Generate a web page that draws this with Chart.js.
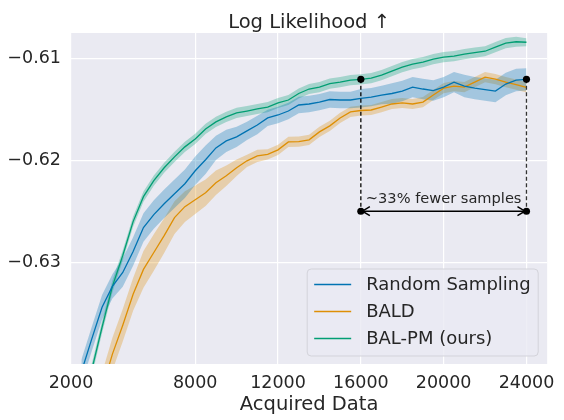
<!DOCTYPE html>
<html><head><meta charset="utf-8">
<script src="https://cdn.jsdelivr.net/npm/chart.js@4.4.1/dist/chart.umd.min.js"></script>
<style>html,body{margin:0;padding:0;background:#fff}#wrap{width:564px;height:420px}</style>
</head><body><div id="wrap"><canvas id="c" width="564" height="420"></canvas></div>
<script>
const acquired = [2500,3000,3500,4000,4500,5000,5500,6000,6500,7000,7500,8000,8500,9000,9500,10000,10500,11000,11500,12000,12500,13000,13500,14000,14500,15000,15500,16000,16500,17000,17500,18000,18500,19000,19500,20000,20500,21000,21500,22000,22500,23000,23500,24000];
const randomMean = [-0.64079,-0.63756,-0.63443,-0.63238,-0.63101,-0.62895,-0.62660,-0.62533,-0.62426,-0.62328,-0.62230,-0.62103,-0.61995,-0.61878,-0.61809,-0.61770,-0.61711,-0.61653,-0.61584,-0.61555,-0.61516,-0.61457,-0.61447,-0.61428,-0.61403,-0.61408,-0.61408,-0.61391,-0.61379,-0.61359,-0.61344,-0.61320,-0.61281,-0.61300,-0.61315,-0.61281,-0.61232,-0.61271,-0.61291,-0.61305,-0.61320,-0.61251,-0.61212,-0.61205];
const randomStd = [0.0012,0.0012,0.0012,0.0012,0.0014,0.0014,0.0014,0.0014,0.0014,0.0014,0.0014,0.0014,0.0014,0.0012,0.0011,0.0010,0.0009,0.0009,0.0008,0.0008,0.0008,0.0008,0.0008,0.0008,0.0008,0.0008,0.0008,0.0009,0.0009,0.0009,0.0010,0.0010,0.0010,0.0010,0.0010,0.0010,0.0010,0.0011,0.0011,0.0011,0.0011,0.0011,0.0011,0.0011];
const baldMean = [-0.64931,-0.64539,-0.64246,-0.63903,-0.63619,-0.63316,-0.63071,-0.62905,-0.62739,-0.62563,-0.62455,-0.62387,-0.62318,-0.62220,-0.62152,-0.62073,-0.62005,-0.61956,-0.61941,-0.61897,-0.61819,-0.61816,-0.61799,-0.61721,-0.61662,-0.61584,-0.61525,-0.61511,-0.61506,-0.61477,-0.61447,-0.61437,-0.61447,-0.61428,-0.61359,-0.61291,-0.61271,-0.61281,-0.61232,-0.61183,-0.61203,-0.61232,-0.61256,-0.61284];
const baldStd = [0.0016,0.0016,0.0016,0.0016,0.0016,0.0016,0.0018,0.0018,0.0017,0.0016,0.0015,0.0014,0.0013,0.0012,0.0010,0.0008,0.0006,0.0006,0.0005,0.0005,0.0005,0.0005,0.0005,0.0005,0.0005,0.0005,0.0005,0.0005,0.0005,0.0005,0.0005,0.0005,0.0005,0.0005,0.0005,0.0005,0.0005,0.0005,0.0005,0.0005,0.0005,0.0005,0.0005,0.0005];
const balpmMean = [-0.64441,-0.64060,-0.63639,-0.63238,-0.62934,-0.62602,-0.62357,-0.62200,-0.62073,-0.61966,-0.61868,-0.61790,-0.61692,-0.61623,-0.61574,-0.61535,-0.61516,-0.61496,-0.61477,-0.61437,-0.61408,-0.61344,-0.61300,-0.61281,-0.61247,-0.61232,-0.61212,-0.61205,-0.61193,-0.61163,-0.61124,-0.61085,-0.61056,-0.61036,-0.61007,-0.60987,-0.60977,-0.60958,-0.60943,-0.60929,-0.60889,-0.60850,-0.60836,-0.60841];
const balpmStd = [0.0006,0.0006,0.0006,0.0006,0.0005,0.0005,0.0005,0.0005,0.0005,0.0005,0.0005,0.0005,0.0005,0.0005,0.0005,0.0005,0.0005,0.0005,0.0005,0.0005,0.0005,0.0005,0.0005,0.0005,0.0005,0.0005,0.0005,0.0005,0.0005,0.0005,0.0005,0.0005,0.0005,0.0005,0.0005,0.0005,0.0005,0.0005,0.0005,0.0005,0.0005,0.0005,0.0005,0.0004];
const seriesNames = ['Random Sampling','BALD','BAL-PM (ours)'];
const xTicks = [2000,8000,12000,16000,20000,24000];
const yTicks = [-0.63,-0.62,-0.61];
const markerX = [16000,24000];
const markerTopY = -0.61205;
const arrowY = -0.625;
const annotationText = '~33% fewer samples';
const titleText = 'Log Likelihood \u2191';
const xTitle = 'Acquired Data';

const colors = ['#0173b2','#de8f05','#029e73'];
const bands = ['rgba(1,115,178,0.3)','rgba(222,143,5,0.3)','rgba(2,158,115,0.3)'];
const means = [randomMean, baldMean, balpmMean];
const stds = [randomStd, baldStd, balpmStd];
const FONT = '"DejaVu Sans"';
const TXT = '#262626';

const pts = (arr) => acquired.map((x,i)=>({x:x, y:arr[i]}));
const upper = (m,s) => acquired.map((x,i)=>({x:x, y:m[i]+s[i]}));
const lower = (m,s) => acquired.map((x,i)=>({x:x, y:m[i]-s[i]}));

const datasets = [];
datasets.push({type:'scatter', data:[{x:markerX[0],y:markerTopY},{x:markerX[1],y:markerTopY},{x:markerX[0],y:arrowY},{x:markerX[1],y:arrowY}], pointRadius:3.6, pointBackgroundColor:'#000', pointBorderWidth:0, showLine:false, clip:false});
datasets.push({data:[{x:markerX[0],y:markerTopY},{x:markerX[0],y:arrowY}], borderColor:'#000', borderWidth:1.3, borderDash:[4,2.5], pointRadius:0, fill:false});
datasets.push({data:[{x:markerX[1],y:markerTopY},{x:markerX[1],y:arrowY}], borderColor:'#333', borderWidth:1.3, borderDash:[4,2.5], pointRadius:0, fill:false});
datasets.push({data:[{x:markerX[0],y:arrowY},{x:markerX[1],y:arrowY}], borderColor:'#000', borderWidth:1.5, pointRadius:0, fill:false});
for (let k=0;k<3;k++) datasets.push({label:seriesNames[k], data:pts(means[k]), borderColor:colors[k], borderWidth:1.3, pointRadius:0, fill:false, tension:0});
for (let k=0;k<3;k++) {
  const idx = datasets.length;
  datasets.push({data:upper(means[k],stds[k]), borderWidth:0, borderColor:'rgba(0,0,0,0)', pointRadius:0, backgroundColor:bands[k], fill:idx+1, tension:0});
  datasets.push({data:lower(means[k],stds[k]), borderWidth:0, borderColor:'rgba(0,0,0,0)', pointRadius:0, fill:false, tension:0});
}

const bgPlugin = {
  id:'bg',
  beforeDraw(chart){
    const {ctx, chartArea:a} = chart;
    ctx.save(); ctx.fillStyle='#eaeaf2';
    ctx.fillRect(a.left,a.top,a.right-a.left,a.bottom-a.top);
    ctx.restore();
  }
};
const overlayPlugin = {
  id:'overlay',
  afterDraw(chart){
    const {ctx, chartArea:a, scales} = chart;
    const xs = scales.x, ys = scales.y;
    ctx.save();
    // title
    ctx.fillStyle = TXT; ctx.font = '19.5px '+FONT; ctx.textAlign='center'; ctx.textBaseline='alphabetic';
    ctx.fillText(titleText, (a.left+a.right)/2, 27.5);
    // arrow heads
    const x0 = xs.getPixelForValue(markerX[0]), x1 = xs.getPixelForValue(markerX[1]), yA = ys.getPixelForValue(arrowY);
    ctx.strokeStyle='#000'; ctx.lineWidth=1.5;
    ctx.beginPath();
    ctx.moveTo(x0+9, yA-4.5); ctx.lineTo(x0+1.5, yA); ctx.lineTo(x0+9, yA+4.5);
    ctx.moveTo(x1-9, yA-4.5); ctx.lineTo(x1-1.5, yA); ctx.lineTo(x1-9, yA+4.5);
    ctx.stroke();
    // annotation text
    ctx.fillStyle = TXT; ctx.font = '14.6px '+FONT; ctx.textAlign='center'; ctx.textBaseline='alphabetic';
    ctx.fillText(annotationText, (x0+x1)/2, yA-8);
    // legend
    const bw = 231, bh = 87;
    const bx = a.right - 9 - bw, by = a.bottom - 8 - bh;
    ctx.beginPath();
    ctx.roundRect(bx, by, bw, bh, 4);
    ctx.fillStyle='rgba(234,234,242,0.8)'; ctx.fill();
    ctx.strokeStyle='#d3d3da'; ctx.lineWidth=1; ctx.stroke();
    ctx.font = '18px '+FONT; ctx.textAlign='left'; ctx.textBaseline='middle';
    for (let k=0;k<3;k++){
      const ry = by + 15.5 + k*27;
      ctx.strokeStyle = colors[k]; ctx.lineWidth=1.5;
      ctx.beginPath(); ctx.moveTo(bx+7, ry); ctx.lineTo(bx+44, ry); ctx.stroke();
      ctx.fillStyle = TXT; ctx.fillText(seriesNames[k], bx+59, ry+1);
    }
    ctx.restore();
  }
};

new Chart(document.getElementById('c'), {
  type:'line',
  data:{datasets:datasets},
  options:{
    responsive:false, animation:false, devicePixelRatio:1,
    layout:{padding:{top:33,right:16,bottom:0,left:0}},
    plugins:{legend:{display:false}, tooltip:{enabled:false}, title:{display:false}},
    scales:{
      x:{type:'linear', min:2000, max:25000,
        afterBuildTicks:(s)=>{ s.ticks = xTicks.map(v=>({value:v})); },
        afterFit:(s)=>{ s.height = 56; },
        ticks:{callback:(v)=>String(v), font:{family:FONT,size:17.5}, color:TXT, padding:9, maxRotation:0, autoSkip:false},
        grid:{color:'#ffffff', lineWidth:1.2, drawTicks:false},
        border:{display:false},
        title:{display:true, text:xTitle, font:{family:FONT,size:19.5}, color:TXT, padding:{top:0,bottom:3}}
      },
      y:{type:'linear', min:-0.64, max:-0.6075,
        afterBuildTicks:(s)=>{ s.ticks = yTicks.map(v=>({value:v})); },
        afterFit:(s)=>{ s.width = 71; },
        ticks:{callback:(v)=>'\u2212'+Math.abs(v).toFixed(2), font:{family:FONT,size:17.5}, color:TXT, padding:10},
        grid:{color:'#ffffff', lineWidth:1.2, drawTicks:false},
        border:{display:false}
      }
    }
  },
  plugins:[bgPlugin, overlayPlugin]
});
</script></body></html>
